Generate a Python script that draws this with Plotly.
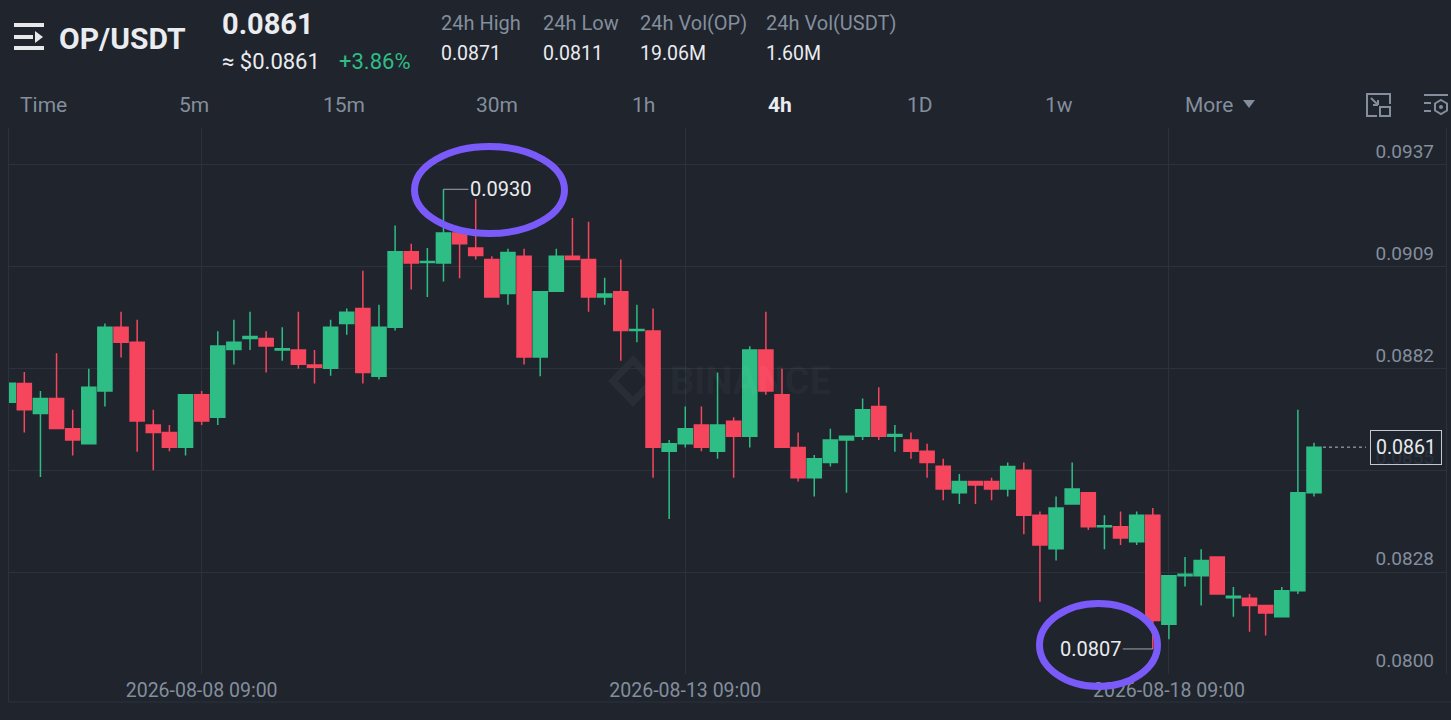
#%%
import pandas as pd
import plotly.graph_objects as go


# %% DATA (OP/USDT 4h candles)
pair = 'OP/USDT'
first_candle = '2026-08-06 09:00'

opens = [
    0.08730, 0.08780, 0.08700, 0.08740, 0.08659, 0.08619, 0.08760, 0.08931, 0.08891, 0.08669,
    0.08649, 0.08610, 0.08750, 0.08690, 0.08871, 0.08901, 0.08901, 0.08870, 0.08870, 0.08830,
    0.08821, 0.08941, 0.08981, 0.08800, 0.08931, 0.09133, 0.09104, 0.09103, 0.09183, 0.09143,
    0.09112, 0.09021, 0.09121, 0.08851, 0.09027, 0.09121, 0.09112, 0.09012, 0.09026, 0.08922,
    0.08921, 0.08599, 0.08619, 0.08669, 0.08599, 0.08679, 0.08639, 0.08870, 0.08750, 0.08609,
    0.08528, 0.08569, 0.08629, 0.08639, 0.08719, 0.08639, 0.08629, 0.08599, 0.08559, 0.08488,
    0.08518, 0.08518, 0.08498, 0.08548, 0.08428, 0.08338, 0.08458, 0.08488, 0.08397, 0.08397,
    0.08357, 0.08428, 0.08136, 0.08266, 0.08266, 0.08316, 0.08207, 0.08206, 0.08186, 0.08156,
    0.08226, 0.08488,
]
highs = [
    0.08850, 0.08811, 0.08760, 0.08861, 0.08710, 0.08820, 0.08941, 0.08972, 0.08951, 0.08710,
    0.08669, 0.08750, 0.08760, 0.08920, 0.08951, 0.08972, 0.08920, 0.08931, 0.08972, 0.08870,
    0.08951, 0.08981, 0.09082, 0.08991, 0.09203, 0.09154, 0.09143, 0.09300, 0.09183, 0.09274,
    0.09121, 0.09141, 0.09141, 0.09026, 0.09141, 0.09223, 0.09213, 0.09063, 0.09112, 0.08991,
    0.08981, 0.08629, 0.08719, 0.08719, 0.08810, 0.08690, 0.08880, 0.08972, 0.08820, 0.08649,
    0.08589, 0.08659, 0.08639, 0.08740, 0.08770, 0.08669, 0.08649, 0.08619, 0.08579, 0.08538,
    0.08518, 0.08528, 0.08569, 0.08569, 0.08438, 0.08478, 0.08569, 0.08488, 0.08428, 0.08438,
    0.08438, 0.08447, 0.08266, 0.08316, 0.08337, 0.08316, 0.08236, 0.08217, 0.08186, 0.08236,
    0.08710, 0.08622,
]
lows = [
    0.08720, 0.08649, 0.08530, 0.08658, 0.08588, 0.08618, 0.08719, 0.08850, 0.08598, 0.08548,
    0.08599, 0.08588, 0.08669, 0.08669, 0.08831, 0.08870, 0.08810, 0.08841, 0.08820, 0.08780,
    0.08801, 0.08911, 0.08780, 0.08791, 0.08922, 0.09032, 0.09012, 0.09053, 0.09062, 0.09112,
    0.09012, 0.08991, 0.08831, 0.08800, 0.09027, 0.09112, 0.08972, 0.08991, 0.08841, 0.08891,
    0.08528, 0.08418, 0.08609, 0.08599, 0.08579, 0.08528, 0.08609, 0.08750, 0.08610, 0.08518,
    0.08478, 0.08558, 0.08488, 0.08629, 0.08629, 0.08598, 0.08579, 0.08528, 0.08468, 0.08458,
    0.08458, 0.08468, 0.08478, 0.08377, 0.08196, 0.08307, 0.08458, 0.08388, 0.08337, 0.08348,
    0.08348, 0.08070, 0.08096, 0.08237, 0.08186, 0.08217, 0.08156, 0.08116, 0.08106, 0.08156,
    0.08217, 0.08478,
]
closes = [
    0.08781, 0.08710, 0.08740, 0.08660, 0.08629, 0.08770, 0.08931, 0.08891, 0.08680, 0.08649,
    0.08610, 0.08750, 0.08680, 0.08881, 0.08891, 0.08906, 0.08881, 0.08873, 0.08832, 0.08824,
    0.08931, 0.08971, 0.08810, 0.08931, 0.09133, 0.09103, 0.09107, 0.09183, 0.09154, 0.09123,
    0.09012, 0.09131, 0.08851, 0.09026, 0.09121, 0.09112, 0.09012, 0.09020, 0.08922, 0.08925,
    0.08610, 0.08619, 0.08659, 0.08610, 0.08669, 0.08639, 0.08870, 0.08760, 0.08610, 0.08528,
    0.08579, 0.08629, 0.08639, 0.08710, 0.08639, 0.08644, 0.08599, 0.08569, 0.08498, 0.08518,
    0.08509, 0.08498, 0.08558, 0.08428, 0.08348, 0.08447, 0.08498, 0.08397, 0.08400, 0.08367,
    0.08428, 0.08146, 0.08266, 0.08270, 0.08307, 0.08217, 0.08211, 0.08186, 0.08166, 0.08226,
    0.08488, 0.08610,
]

x_ticks = ['2026-08-08 09:00', '2026-08-13 09:00', '2026-08-18 09:00']
y_ticks = [0.08003, 0.082757, 0.085484, 0.088211, 0.090938, 0.093665]

last_price = '0.0861'
last_usd = '≈ $0.0861'
change_24h = '+3.86%'
stat_names = ['24h High', '24h Low', '24h Vol(OP)', '24h Vol(USDT)']
stat_values = ['0.0871', '0.0811', '19.06M', '1.60M']
intervals = ['Time', '5m', '15m', '30m', '1h', '4h', '1D', '1w', 'More']
active_interval = '4h'

times = pd.date_range(first_candle, periods=len(opens), freq='4h')


# %% STYLE
BG = '#1f242d'
GRID = '#2c323c'
GREEN = '#2ebd85'
RED = '#f6465d'
GRAY = '#848e9c'
WHITE = '#eaecef'
PURPLE = '#7a5af8'
FONT = 'Roboto'

W, H = 1451, 720
ML, MR, MT, MB = 8, 4, 128, 46


def px(x):
    return (x - ML) / (W - ML - MR)


def py(y):
    return (H - MB - y) / (H - MT - MB)


# %% CHART
fig = go.Figure(go.Candlestick(
    x=times, open=opens, high=highs, low=lows, close=closes,
    increasing=dict(line=dict(color=GREEN, width=1.5), fillcolor=GREEN),
    decreasing=dict(line=dict(color=RED, width=1.5), fillcolor=RED),
    whiskerwidth=0,
    hoverinfo='skip',
    showlegend=False,
))

shapes = []
annotations = []


def text(t, x, y, size, color=GRAY, anchor='left'):
    annotations.append(dict(
        text=t, x=px(x), y=py(y), xref='paper', yref='paper',
        xanchor=anchor, yanchor='middle', showarrow=False,
        font=dict(family=FONT, size=size, color=color),
    ))


def line(x0, y0, x1, y1, color=GRID, width=1, dash=None):
    shapes.append(dict(
        type='line', xref='paper', yref='paper',
        x0=px(x0), y0=py(y0), x1=px(x1), y1=py(y1),
        line=dict(color=color, width=width, dash=dash), layer='above',
    ))


# header
text(f'<b>{pair}</b>', 57, 39, 30, WHITE)
text(f'<b>{last_price}</b>', 220, 24, 29, WHITE)
text(last_usd, 220, 61, 22, WHITE)
text(change_24h, 337, 61, 22, GREEN)
for name, value, x in zip(stat_names, stat_values, [439, 541, 638, 764]):
    text(name, x, 23, 20, GRAY)
    text(value, x, 53, 19.5, WHITE)

for name, x in zip(intervals, [18, 177, 321, 474, 630, 766, 905, 1043, 1183]):
    if name == active_interval:
        text(f'<b>{name}</b>', x, 105, 21, WHITE)
    else:
        text(name, x, 105, 21, GRAY)
shapes.append(dict(type='path', xref='paper', yref='paper', layer='above',
                   path=f'M {px(1243)},{py(100)} L {px(1255)},{py(100)} L {px(1249)},{py(108)} Z',
                   fillcolor=GRAY, line=dict(width=0)))

# menu icon
for y0, y1, x1 in [(23, 27, 44), (35, 39, 33), (46, 50, 44)]:
    shapes.append(dict(type='rect', xref='paper', yref='paper', layer='above',
                       x0=px(14), x1=px(x1), y0=py(y0), y1=py(y1),
                       fillcolor='#e6e8ea', line=dict(width=0)))
shapes.append(dict(type='path', xref='paper', yref='paper', layer='above',
                   path=f'M {px(35)},{py(31)} L {px(43)},{py(37)} L {px(35)},{py(43)} Z',
                   fillcolor='#e6e8ea', line=dict(width=0)))

# toolbar icons
ic = dict(color=GRAY, width=2)
shapes.append(dict(type='path', xref='paper', yref='paper', layer='above',
                   path=(f'M {px(1390)},{py(104)} L {px(1390)},{py(94)} L {px(1367)},{py(94)} '
                         f'L {px(1367)},{py(116)} L {px(1377)},{py(116)}'),
                   line=ic))
shapes.append(dict(type='rect', xref='paper', yref='paper', layer='above',
                   x0=px(1380), x1=px(1390), y0=py(107), y1=py(116), line=ic))
line(1371, 98, 1378, 105, GRAY, 2)
line(1378, 105, 1378, 100, GRAY, 2)
line(1378, 105, 1373, 105, GRAY, 2)
line(1424, 95, 1448, 95, GRAY, 2)
line(1424, 103, 1431, 103, GRAY, 2)
line(1424, 111, 1431, 111, GRAY, 2)
shapes.append(dict(type='path', xref='paper', yref='paper', layer='above',
                   path=(f'M {px(1441)},{py(100)} L {px(1447)},{py(103.5)} L {px(1447)},{py(110.5)} '
                         f'L {px(1441)},{py(114)} L {px(1435)},{py(110.5)} L {px(1435)},{py(103.5)} Z'),
                   line=ic))
shapes.append(dict(type='circle', xref='paper', yref='paper', layer='above',
                   x0=px(1439), x1=px(1443), y0=py(105), y1=py(109),
                   fillcolor=GRAY, line=dict(width=0)))

# chart frame
line(8.5, 128, 8.5, 702)
line(1446.5, 128, 1446.5, 674)
line(8.5, 702, 1451, 702)

# watermark
shapes.append(dict(type='path', xref='paper', yref='paper', layer='below',
                   path=(f'M {px(633)},{py(360)} L {px(653)},{py(381)} L {px(633)},{py(402)} '
                         f'L {px(613)},{py(381)} Z'),
                   line=dict(color='rgba(255,255,255,0.045)', width=7)))
text('<b>BINANCE</b>', 668, 381, 38, 'rgba(255,255,255,0.045)')

# highest / lowest markers
i_max = highs.index(max(highs))
i_min = lows.index(min(lows))
annotations.append(dict(
    x=times[i_max], y=highs[i_max], text=f'{highs[i_max]:.4f}', showarrow=True,
    ax=25, ay=0, arrowhead=0, arrowwidth=1, arrowcolor='#a0a6ae', standoff=0,
    xanchor='left', font=dict(family=FONT, size=20, color=WHITE),
))
annotations.append(dict(
    x=times[i_min], y=lows[i_min], text=f'{lows[i_min]:.4f}', showarrow=True,
    ax=-30, ay=0, arrowhead=0, arrowwidth=1, arrowcolor='#a0a6ae', standoff=0,
    xanchor='right', font=dict(family=FONT, size=20, color=WHITE),
))

# last price line and tag
shapes.append(dict(type='line', xref='paper', yref='y',
                   x0=px(1323), x1=px(1366), y0=closes[-1], y1=closes[-1],
                   line=dict(color='#b7bdc6', width=1, dash='3px,3px')))
annotations.append(dict(
    x=px(1406), y=closes[-1], xref='paper', yref='y', text=f'{closes[-1]:.4f}',
    showarrow=False, xanchor='center', yanchor='middle',
    bgcolor='rgba(31,36,45,0.88)', bordercolor='#c4c9d0', borderwidth=1, borderpad=5,
    font=dict(family=FONT, size=19.5, color=WHITE),
))

# highlight ellipses
shapes.append(dict(type='circle', xref='paper', yref='paper', layer='above',
                   x0=px(414.5), x1=px(564.5), y0=py(146.5), y1=py(233.5),
                   line=dict(color=PURPLE, width=7)))
shapes.append(dict(type='circle', xref='paper', yref='paper', layer='above',
                   x0=px(1039.5), x1=px(1157.5), y0=py(603.5), y1=py(686.5),
                   line=dict(color=PURPLE, width=7)))

fig.update_layout(
    width=W, height=H,
    margin=dict(l=ML, r=MR, t=MT, b=MB, pad=0),
    paper_bgcolor=BG,
    plot_bgcolor=BG,
    font=dict(family=FONT, color=GRAY),
    hovermode=False,
    boxgap=0.065,
    boxgroupgap=0.065,
    shapes=shapes,
    annotations=annotations,
    xaxis=dict(
        type='date',
        range=['2026-08-06 08:57', '2026-08-21 06:00'],
        tickvals=x_ticks,
        tickformat='%Y-%m-%d %H:%M',
        tickfont=dict(family=FONT, size=19.5, color=GRAY),
        ticklabelstandoff=2,
        showgrid=True, gridcolor=GRID, gridwidth=1,
        ticks='', showline=False, zeroline=False,
        rangeslider=dict(visible=False),
        fixedrange=True,
    ),
    yaxis=dict(
        side='right',
        range=[0.08003, 0.09464],
        tickvals=y_ticks,
        tickformat='.4f',
        ticklabelposition='inside top',
        ticklabelstandoff=10,
        tickfont=dict(family=FONT, size=19, color=GRAY),
        showgrid=True, gridcolor=GRID, gridwidth=1,
        ticks='', showline=False, zeroline=False,
        fixedrange=True,
    ),
)

fig.write_html('out.html', config={'displayModeBar': False},
               post_script="document.body.style.margin='0';")

# %%
